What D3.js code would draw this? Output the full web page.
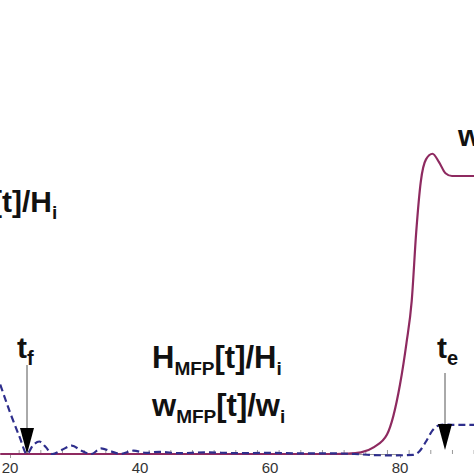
<!DOCTYPE html><html><head><script src="https://cdn.jsdelivr.net/npm/d3@7"></script>
<style>body{margin:0;background:#fff}</style></head><body><svg id="c" width="474" height="474"></svg>
<script>
const tTicks=[20,40,60,80];
const hT=[18.5,30,50,70,72,74,76,78,80,81,81.8,82.5,83.2,84,85,86,87,88,90,91.5];
const hV=[0,0,0,0,0.001,0.006,0.025,0.07,0.25,0.4,0.55,0.8,0.98,1.06,1.08,1.05,1.01,1.0,1.0,1.0];
const wT=[18.5,20,21.5,22.6,23.5,24.5,25.5,26.5,28,29.5,31,32.5,34,35.5,37,39,41,43,46,50,55,60,65,70,73,76,79,82,83,84,85,86,87,88,90,91.5];
const wV=[0.25,0.15,0.06,0,0.03,0.045,0.025,0,0.015,0.03,0.012,0,0.02,0.01,0,0.012,0.004,0.008,0.003,0.006,0.003,0.004,0.002,0.002,0,-0.004,-0.005,-0.003,0.01,0.045,0.085,0.103,0.106,0.105,0.105,0.105];
const svg=d3.select("#c");
const F="Liberation Sans";
const x=d3.scaleLinear().domain([20,80]).range([10,400]);
const y=d3.scaleLinear().domain([0,1]).range([454,176]);
const ax=svg.append("g").attr("transform","translate(0,454)").call(d3.axisBottom(x).tickValues(d3.range(18,92,3.333)).tickSize(4).tickFormat(""));
ax.select(".domain").attr("stroke","#999");ax.selectAll("line").attr("stroke","#999").attr("transform","translate(0,-4)");
svg.append("g").selectAll("text").data(tTicks).join("text").attr("x",d=>x(d)).attr("y",473).attr("text-anchor","middle")
 .attr("font-family",F).attr("font-size",15).attr("fill","#333").text(d=>d);
const line=d3.line().x(d=>x(d[0])).y(d=>y(d[1])).curve(d3.curveMonotoneX);
svg.append("path").attr("d",line(hT.map((t,i)=>[t,hV[i]]))).attr("fill","none").attr("stroke","#8e2a60").attr("stroke-width",2.2);
svg.append("path").attr("d",line(wT.map((t,i)=>[t,wV[i]]))).attr("fill","none").attr("stroke","#2e2e8c").attr("stroke-width",2.2).attr("stroke-dasharray","7,4");
function T(px,py,size,html){svg.append("text").attr("x",px).attr("y",py).attr("font-family",F).attr("font-weight","bold").attr("font-size",size).attr("fill","#111").html(html);}
T(-8,212,30,'[t]/H<tspan font-size="19" dy="7">i</tspan>');
T(458,146,30,'w');
T(152,368,31,'H<tspan font-size="19" dy="7">MFP</tspan><tspan dy="-7">[t]/H</tspan><tspan font-size="19" dy="7">i</tspan>');
T(152,416,31,'w<tspan font-size="19" dy="7">MFP</tspan><tspan dy="-7">[t]/w</tspan><tspan font-size="19" dy="7">i</tspan>');
T(17,358,30,'t<tspan font-size="20" dy="7">f</tspan>');
T(437,358,30,'t<tspan font-size="20" dy="7">e</tspan>');
function arrow(a,y1,y2){svg.append("line").attr("x1",a).attr("x2",a).attr("y1",y1).attr("y2",y2-20).attr("stroke","#555").attr("stroke-width",1);
 svg.append("path").attr("d",`M${a-7},${y2-26}L${a+7},${y2-26}L${a},${y2}Z`).attr("fill","#000");}
arrow(27,365,454);arrow(445,373,450);
</script></body></html>
